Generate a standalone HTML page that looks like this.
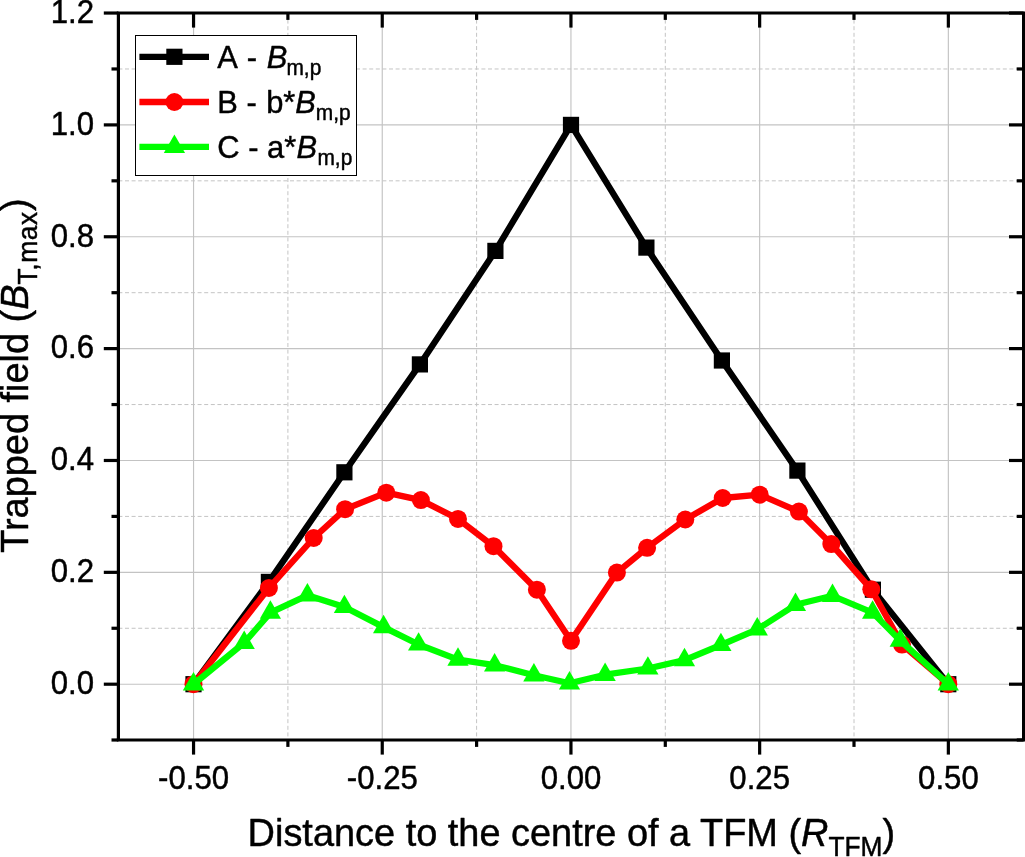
<!DOCTYPE html>
<html lang="en"><head><meta charset="utf-8"><title>Trapped field vs distance to the centre of a TFM</title>
<style>
html,body{margin:0;padding:0;background:#fff;}
body{width:1025px;height:857px;overflow:hidden;}
svg{display:block;}
text{font-family:"Liberation Sans",Arial,Helvetica,sans-serif;fill:#000;stroke:#000;stroke-width:0.45px;stroke-linejoin:round;}
.tk{font-size:31.2px;}
.ttl{font-size:37.92px;}
.lg{font-size:30.9px;}
.it{font-style:italic;}
</style></head><body>
<svg width="1025" height="857" viewBox="0 0 1025 857">
<rect x="0" y="0" width="1025" height="857" fill="#fff"/>
<g fill="none" stroke="#c3c3c3" stroke-width="1.15">
<line x1="193.55" y1="13.00" x2="193.55" y2="740.00"/>
<line x1="382.25" y1="13.00" x2="382.25" y2="740.00"/>
<line x1="570.95" y1="13.00" x2="570.95" y2="740.00"/>
<line x1="759.65" y1="13.00" x2="759.65" y2="740.00"/>
<line x1="948.35" y1="13.00" x2="948.35" y2="740.00"/>
<line x1="118.40" y1="684.20" x2="1023.60" y2="684.20"/>
<line x1="118.40" y1="572.34" x2="1023.60" y2="572.34"/>
<line x1="118.40" y1="460.48" x2="1023.60" y2="460.48"/>
<line x1="118.40" y1="348.62" x2="1023.60" y2="348.62"/>
<line x1="118.40" y1="236.76" x2="1023.60" y2="236.76"/>
<line x1="118.40" y1="124.90" x2="1023.60" y2="124.90"/>
</g>
<g fill="none" stroke="#c4c4c4" stroke-width="1" stroke-dasharray="4 2.6">
<line x1="287.90" y1="13.00" x2="287.90" y2="740.00"/>
<line x1="476.60" y1="13.00" x2="476.60" y2="740.00"/>
<line x1="665.30" y1="13.00" x2="665.30" y2="740.00"/>
<line x1="854.00" y1="13.00" x2="854.00" y2="740.00"/>
<line x1="118.40" y1="628.27" x2="1023.60" y2="628.27"/>
<line x1="118.40" y1="516.41" x2="1023.60" y2="516.41"/>
<line x1="118.40" y1="404.55" x2="1023.60" y2="404.55"/>
<line x1="118.40" y1="292.69" x2="1023.60" y2="292.69"/>
<line x1="118.40" y1="180.83" x2="1023.60" y2="180.83"/>
<line x1="118.40" y1="68.97" x2="1023.60" y2="68.97"/>
</g>
<g fill="none" stroke-linejoin="round" stroke-linecap="butt">
<polyline points="193.5,684.2 268.9,581.9 344.4,472.3 419.9,364.4 495.4,250.9 571.0,124.9 646.4,247.6 721.9,360.5 797.4,470.6 872.9,589.7 948.3,684.2" stroke="#000" stroke-width="6.3"/>
</g>
<g fill="#000">
<rect x="185.4" y="676.1" width="16.2" height="16.2"/>
<rect x="260.8" y="573.8" width="16.2" height="16.2"/>
<rect x="336.3" y="464.2" width="16.2" height="16.2"/>
<rect x="411.8" y="356.3" width="16.2" height="16.2"/>
<rect x="487.3" y="242.8" width="16.2" height="16.2"/>
<rect x="562.9" y="116.8" width="16.2" height="16.2"/>
<rect x="638.3" y="239.5" width="16.2" height="16.2"/>
<rect x="713.8" y="352.4" width="16.2" height="16.2"/>
<rect x="789.3" y="462.5" width="16.2" height="16.2"/>
<rect x="864.8" y="581.6" width="16.2" height="16.2"/>
<rect x="940.2" y="676.1" width="16.2" height="16.2"/>
</g>
<polyline points="193.5,684.2 268.9,588.0 313.7,538.0 345.1,509.2 386.3,492.7 420.9,500.1 458.0,518.9 493.5,546.2 536.9,589.7 571.0,640.8 616.9,572.6 647.1,547.8 685.3,519.5 722.7,498.0 759.7,494.7 798.9,511.6 831.3,544.1 871.3,589.3 902.0,644.6 948.3,684.2" fill="none" stroke="#f00" stroke-width="6.3" stroke-linejoin="round"/>
<g fill="#f00">
<circle cx="193.5" cy="684.2" r="9.0"/>
<circle cx="268.9" cy="588.0" r="9.0"/>
<circle cx="313.7" cy="538.0" r="9.0"/>
<circle cx="345.1" cy="509.2" r="9.0"/>
<circle cx="386.3" cy="492.7" r="9.0"/>
<circle cx="420.9" cy="500.1" r="9.0"/>
<circle cx="458.0" cy="518.9" r="9.0"/>
<circle cx="493.5" cy="546.2" r="9.0"/>
<circle cx="536.9" cy="589.7" r="9.0"/>
<circle cx="571.0" cy="640.8" r="9.0"/>
<circle cx="616.9" cy="572.6" r="9.0"/>
<circle cx="647.1" cy="547.8" r="9.0"/>
<circle cx="685.3" cy="519.5" r="9.0"/>
<circle cx="722.7" cy="498.0" r="9.0"/>
<circle cx="759.7" cy="494.7" r="9.0"/>
<circle cx="798.9" cy="511.6" r="9.0"/>
<circle cx="831.3" cy="544.1" r="9.0"/>
<circle cx="871.3" cy="589.3" r="9.0"/>
<circle cx="902.0" cy="644.6" r="9.0"/>
<circle cx="948.3" cy="684.2" r="9.0"/>
</g>
<polyline points="193.5,684.2 244.2,642.8 270.4,612.6 307.4,595.3 344.4,607.0 383.6,627.1 418.6,644.5 458.0,659.6 494.6,665.2 533.9,675.2 569.5,683.2 605.1,674.7 647.9,668.5 684.5,660.1 720.9,645.0 757.3,629.4 795.5,604.8 832.5,595.8 872.6,612.6 900.3,640.6 948.3,684.2" fill="none" stroke="#0f0" stroke-width="6.3" stroke-linejoin="round"/>
<g fill="#0f0">
<polygon points="193.5,671.9 182.8,690.4 204.2,690.4"/>
<polygon points="244.2,630.5 233.5,648.9 254.8,648.9"/>
<polygon points="270.4,600.3 259.8,618.8 281.0,618.8"/>
<polygon points="307.4,583.0 296.8,601.4 318.0,601.4"/>
<polygon points="344.4,594.7 333.8,613.1 355.0,613.1"/>
<polygon points="383.6,614.8 373.0,633.2 394.2,633.2"/>
<polygon points="418.6,632.2 408.0,650.6 429.2,650.6"/>
<polygon points="458.0,647.3 447.4,665.8 468.6,665.8"/>
<polygon points="494.6,652.9 484.0,671.4 505.2,671.4"/>
<polygon points="533.9,662.9 523.2,681.4 544.5,681.4"/>
<polygon points="569.5,670.9 558.9,689.4 580.1,689.4"/>
<polygon points="605.1,662.4 594.5,680.9 615.8,680.9"/>
<polygon points="647.9,656.2 637.2,674.6 658.5,674.6"/>
<polygon points="684.5,647.8 673.9,666.2 695.1,666.2"/>
<polygon points="720.9,632.7 710.2,651.1 731.5,651.1"/>
<polygon points="757.3,617.1 746.6,635.5 767.9,635.5"/>
<polygon points="795.5,592.5 784.9,610.9 806.1,610.9"/>
<polygon points="832.5,583.5 821.9,601.9 843.1,601.9"/>
<polygon points="872.6,600.3 862.0,618.8 883.2,618.8"/>
<polygon points="900.3,628.3 889.6,646.8 910.9,646.8"/>
<polygon points="948.3,671.9 937.6,690.4 958.9,690.4"/>
</g>
<g fill="none" stroke="#000" stroke-width="3.2" stroke-linecap="butt">
<line x1="116.80" y1="13.00" x2="1025.20" y2="13.00"/>
<line x1="116.80" y1="740.00" x2="1025.20" y2="740.00"/>
<line x1="118.40" y1="13.00" x2="118.40" y2="740.00"/>
<line x1="1023.60" y1="13.00" x2="1023.60" y2="740.00"/>
<line x1="193.55" y1="740.00" x2="193.55" y2="754.60"/>
<line x1="193.55" y1="13.00" x2="193.55" y2="27.60"/>
<line x1="382.25" y1="740.00" x2="382.25" y2="754.60"/>
<line x1="382.25" y1="13.00" x2="382.25" y2="27.60"/>
<line x1="570.95" y1="740.00" x2="570.95" y2="754.60"/>
<line x1="570.95" y1="13.00" x2="570.95" y2="27.60"/>
<line x1="759.65" y1="740.00" x2="759.65" y2="754.60"/>
<line x1="759.65" y1="13.00" x2="759.65" y2="27.60"/>
<line x1="948.35" y1="740.00" x2="948.35" y2="754.60"/>
<line x1="948.35" y1="13.00" x2="948.35" y2="27.60"/>
<line x1="287.90" y1="740.00" x2="287.90" y2="746.90"/>
<line x1="287.90" y1="13.00" x2="287.90" y2="19.90"/>
<line x1="476.60" y1="740.00" x2="476.60" y2="746.90"/>
<line x1="476.60" y1="13.00" x2="476.60" y2="19.90"/>
<line x1="665.30" y1="740.00" x2="665.30" y2="746.90"/>
<line x1="665.30" y1="13.00" x2="665.30" y2="19.90"/>
<line x1="854.00" y1="740.00" x2="854.00" y2="746.90"/>
<line x1="854.00" y1="13.00" x2="854.00" y2="19.90"/>
<line x1="118.40" y1="684.20" x2="103.80" y2="684.20"/>
<line x1="1023.60" y1="684.20" x2="1009.00" y2="684.20"/>
<line x1="118.40" y1="572.34" x2="103.80" y2="572.34"/>
<line x1="1023.60" y1="572.34" x2="1009.00" y2="572.34"/>
<line x1="118.40" y1="460.48" x2="103.80" y2="460.48"/>
<line x1="1023.60" y1="460.48" x2="1009.00" y2="460.48"/>
<line x1="118.40" y1="348.62" x2="103.80" y2="348.62"/>
<line x1="1023.60" y1="348.62" x2="1009.00" y2="348.62"/>
<line x1="118.40" y1="236.76" x2="103.80" y2="236.76"/>
<line x1="1023.60" y1="236.76" x2="1009.00" y2="236.76"/>
<line x1="118.40" y1="124.90" x2="103.80" y2="124.90"/>
<line x1="1023.60" y1="124.90" x2="1009.00" y2="124.90"/>
<line x1="118.40" y1="13.04" x2="103.80" y2="13.04"/>
<line x1="1023.60" y1="13.04" x2="1009.00" y2="13.04"/>
<line x1="118.40" y1="740.00" x2="111.50" y2="740.00"/>
<line x1="1023.60" y1="740.00" x2="1016.70" y2="740.00"/>
<line x1="118.40" y1="628.27" x2="111.50" y2="628.27"/>
<line x1="1023.60" y1="628.27" x2="1016.70" y2="628.27"/>
<line x1="118.40" y1="516.41" x2="111.50" y2="516.41"/>
<line x1="1023.60" y1="516.41" x2="1016.70" y2="516.41"/>
<line x1="118.40" y1="404.55" x2="111.50" y2="404.55"/>
<line x1="1023.60" y1="404.55" x2="1016.70" y2="404.55"/>
<line x1="118.40" y1="292.69" x2="111.50" y2="292.69"/>
<line x1="1023.60" y1="292.69" x2="1016.70" y2="292.69"/>
<line x1="118.40" y1="180.83" x2="111.50" y2="180.83"/>
<line x1="1023.60" y1="180.83" x2="1016.70" y2="180.83"/>
<line x1="118.40" y1="68.97" x2="111.50" y2="68.97"/>
<line x1="1023.60" y1="68.97" x2="1016.70" y2="68.97"/>
</g>
<g class="tk" text-anchor="end">
<text transform="translate(94 694.0) scale(1 1.043)">0.0</text>
<text transform="translate(94 582.1) scale(1 1.043)">0.2</text>
<text transform="translate(94 470.3) scale(1 1.043)">0.4</text>
<text transform="translate(94 358.4) scale(1 1.043)">0.6</text>
<text transform="translate(94 246.6) scale(1 1.043)">0.8</text>
<text transform="translate(94 134.7) scale(1 1.043)">1.0</text>
<text transform="translate(94 22.8) scale(1 1.043)">1.2</text>
</g>
<g class="tk" text-anchor="middle">
<text transform="translate(193.6 788.7) scale(1 1.043)">-0.50</text>
<text transform="translate(382.3 788.7) scale(1 1.043)">-0.25</text>
<text transform="translate(571.0 788.7) scale(1 1.043)">0.00</text>
<text transform="translate(759.7 788.7) scale(1 1.043)">0.25</text>
<text transform="translate(948.4 788.7) scale(1 1.043)">0.50</text>
</g>
<text class="ttl" id="xt" transform="translate(247.6 846.3) scale(1 1.030)">Distance to the centre of a TFM (<tspan class="it">R</tspan><tspan font-size="26.3" dy="9">TFM</tspan><tspan dy="-9">)</tspan></text>
<text class="ttl" id="yt" transform="translate(27.6 552.8) rotate(-90) scale(1 1.030)">Trapped field (<tspan class="it">B</tspan><tspan font-size="26.3" dy="9.4" letter-spacing="0.65">T,max</tspan><tspan dy="-9.4">)</tspan></text>
<rect x="135.5" y="35.5" width="221" height="140" fill="#fff" stroke="#000" stroke-width="1"/>
<line x1="139.4" y1="56.8" x2="209" y2="56.8" stroke="#000" stroke-width="6.3"/>
<rect x="166.3" y="48.7" width="16.2" height="16.2" fill="#000"/>
<line x1="139.4" y1="102.0" x2="209" y2="102.0" stroke="#f00" stroke-width="6.3"/>
<circle cx="174.4" cy="102.0" r="9.0" fill="#f00"/>
<line x1="139.4" y1="146.8" x2="209" y2="146.8" stroke="#0f0" stroke-width="6.3"/>
<g fill="#0f0"><polygon points="174.4,134.5 163.8,153.0 185.1,153.0"/></g>
<text class="lg" transform="translate(217.3 67.5) scale(1 1.035)">A <tspan dx="2.1">-</tspan> <tspan class="it" dx="0.9">B</tspan><tspan font-size="20.9" dy="7.3" dx="-0.8">m,p</tspan></text>
<text class="lg" transform="translate(217.3 112.7) scale(1 1.035)">B - <tspan dx="0.8">b*</tspan><tspan class="it">B</tspan><tspan font-size="20.9" dy="7.3" dx="-0.2">m,p</tspan></text>
<text class="lg" transform="translate(217.3 157.7) scale(1 1.035)">C - a*<tspan class="it" dx="0.3">B</tspan><tspan font-size="20.9" dy="7.3" dx="0.3">m,p</tspan></text>
</svg>
</body></html>
